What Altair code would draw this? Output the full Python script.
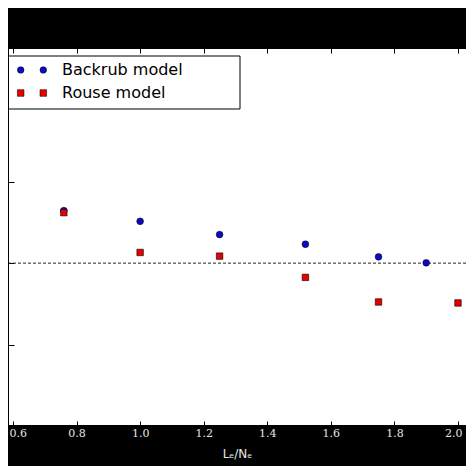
import altair as alt
import pandas as pd

# ---- data ----
series = ["Backrub model", "Rouse model"]
backrub_x = [0.76, 1.00, 1.25, 1.52, 1.75, 1.90]
backrub_y = [1.0645, 1.0514, 1.0351, 1.0232, 1.0077, 1.0004]
rouse_x = [0.76, 1.00, 1.25, 1.52, 1.75, 2.00]
rouse_y = [1.0620, 1.0131, 1.0086, 0.9825, 0.9523, 0.9511]
ref_line = [1.0]
x_ticks = [0.6, 0.8, 1.0, 1.2, 1.4, 1.6, 1.8, 2.0]
y_ticks = [0.8, 0.9, 1.0, 1.1, 1.2]
x_title = "Lₑ/Nₑ"

backrub = pd.DataFrame({"x": backrub_x, "y": backrub_y})
rouse = pd.DataFrame({"x": rouse_x, "y": rouse_y})
ref = pd.DataFrame({"y": ref_line})
leg = pd.DataFrame({"series": series})

xscale = alt.Scale(domain=[0.5843, 2.0252], nice=False, zero=False)
yscale = alt.Scale(domain=[0.8, 1.2642], nice=False, zero=False)

y_axis = alt.Axis(orient="left", offset=-6, tickSize=6, labels=False, domain=False,
                  grid=False, values=y_ticks, title=None, tickColor="black")
x_bottom = alt.Axis(orient="bottom", offset=-5, tickSize=5, values=x_ticks, domain=False,
                    grid=False, format=".1f", labelPadding=1, labelColor="#e6e6e6",
                    labelFont="DejaVu Serif", labelFontSize=11, tickColor="black",
                    labelFlush=9, labelFlushOffset=4,
                    title=x_title, titleColor="#e6e6e6", titleFont="DejaVu Sans",
                    titleFontSize=12, titleFontWeight="normal", titlePadding=10)
x_top = alt.Axis(orient="top", offset=-5, tickSize=5, values=x_ticks, domain=False,
                 grid=False, labels=False, title=None, tickColor="black")

blue = alt.Chart(backrub).mark_point(
    shape="circle", filled=True, fill="#0a0ac4", stroke="black", strokeWidth=0.5,
    size=46, opacity=1
).encode(
    x=alt.X("x:Q", scale=xscale, axis=x_bottom),
    y=alt.Y("y:Q", scale=yscale, axis=y_axis),
)

red = alt.Chart(rouse).mark_point(
    shape="square", filled=True, fill="#e80000", stroke="black", strokeWidth=0.6,
    size=42, opacity=1
).encode(
    x=alt.X("x:Q", scale=xscale, axis=x_top),
    y=alt.Y("y:Q", scale=yscale, axis=y_axis),
)

rule = alt.Chart(ref).mark_rule(color="#222222", strokeWidth=1, strokeDash=[3, 2]).encode(
    y=alt.Y("y:Q", scale=yscale, axis=y_axis),
)

main = alt.layer(rule, blue, red).resolve_axis(x="independent")

# ---- frame (left, top, bottom spines; right spine lies outside the crop) ----
frame = alt.Chart(alt.Data(values=[{}])).mark_rect(
    fillOpacity=0, stroke="black", strokeWidth=2, clip=True
).encode(x=alt.value(0), x2=alt.value(480), y=alt.value(0), y2=alt.value(378))

# ---- legend (two markers per entry, as in the reference) ----
leg_y = alt.Y("series:N", scale=alt.Scale(domain=series, range=[22, 45], padding=0), axis=None)
leg_color = alt.Color("series:N", scale=alt.Scale(domain=series, range=["#0a0ac4", "#e80000"]), legend=None)
leg_shape = alt.Shape("series:N", scale=alt.Scale(domain=series, range=["circle", "square"]), legend=None)

box = alt.Chart(alt.Data(values=[{}])).mark_rect(
    fill="white", stroke="black", strokeWidth=1
).encode(x=alt.value(0.5), x2=alt.value(232), y=alt.value(8), y2=alt.value(61))

sym1 = alt.Chart(leg).mark_point(filled=True, stroke="black", strokeWidth=0.5, size=44, opacity=1).encode(
    x=alt.value(12.7), y=leg_y, fill=leg_color, shape=leg_shape)
sym2 = alt.Chart(leg).mark_point(filled=True, stroke="black", strokeWidth=0.5, size=44, opacity=1).encode(
    x=alt.value(35.3), y=leg_y, fill=leg_color, shape=leg_shape)
txt = alt.Chart(leg).mark_text(align="left", baseline="middle", font="DejaVu Sans",
                               fontSize=16, color="black").encode(
    x=alt.value(54), y=leg_y, text="series:N")

legend = alt.layer(frame, box, sym1, sym2, txt)

chart = alt.layer(main, legend).resolve_scale(
    y="independent", color="independent", shape="independent"
).properties(
    width=458, height=378,
    background="black",
    padding={"left": 0, "top": 40, "right": 0, "bottom": 40},
    autosize=alt.AutoSizeParams(type="none"),
).configure_view(fill="white", stroke=None)

chart.save("out.html", embed_options={"renderer": "svg", "actions": False})
